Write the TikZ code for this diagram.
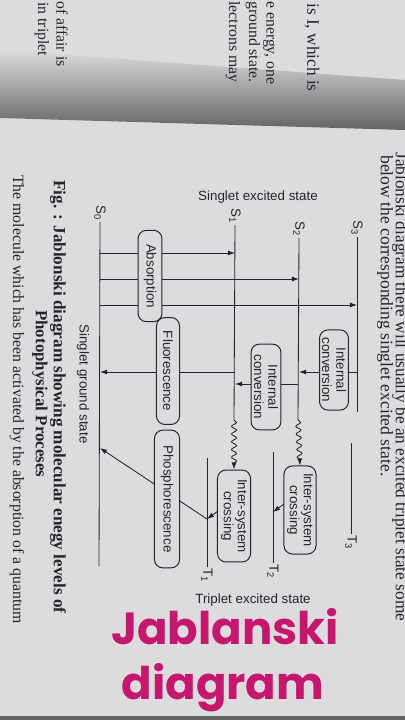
\documentclass[tikz,border=0pt]{standalone}
\usepackage{fontspec}
\setmainfont{Liberation Serif}
\newfontfamily\diagfont{Liberation Sans}
\newfontfamily\popfont{Poppins}
\usetikzlibrary{arrows.meta,decorations.pathmorphing,positioning}
\definecolor{paper}{RGB}{221,219,222}
\definecolor{ink}{RGB}{38,36,40}
\definecolor{hot}{RGB}{196,24,110}

\begin{document}
\begin{tikzpicture}[x=0.025cm,y=-0.025cm]
\tikzstyle{statebar} = [ink, line width=0.6pt]
\tikzstyle{transarrow} = [ink, line width=0.6pt, -{Latex[length=5pt,width=3.5pt]}]
\tikzstyle{wavy} = [decorate, decoration={snake, amplitude=1.8pt, segment length=5.5pt, post length=4pt}]
\tikzstyle{process} = [draw=ink, fill=paper, line width=0.7pt, rounded corners=6pt, rotate=-90, align=center, inner sep=1pt, text=ink, font=\diagfont\fontsize{9.5}{10}\selectfont]
\tikzstyle{lbl} = [text=ink, inner sep=1pt, font=\diagfont\fontsize{9.5}{10}\selectfont]
\tikzstyle{pagetext} = [text=ink, rotate=-90, anchor=west, inner sep=0pt, font=\fontsize{12.5}{13}\selectfont]
\tikzstyle{lefttext} = [pagetext, font=\fontsize{11.2}{12}\selectfont]
\tikzstyle{bigtitle} = [text=hot, inner sep=0pt, font=\popfont\bfseries\fontsize{32}{32}\selectfont]

\useasboundingbox (0,0) rectangle (405,720);
\clip (0,0) rectangle (405,720);
\fill[paper] (0,0) rectangle (405,720);

% fold between the two pages
\shade[top color=paper, bottom color=black!55!paper] (0,50) -- (405,80) -- (405,130) -- (0,118) -- cycle;
\fill[black!55!paper] (0,716) rectangle (405,720);

% text of the left page
\node[lefttext] (l1) at (62,1) {of affair is};
\node[lefttext] (l2) at (42,2) {in triplet};
\node[lefttext, font=\fontsize{12.3}{13}\selectfont] (l3) at (312,3) {is I, which is};
\node[lefttext] (l4) at (269,1) {e energy, one};
\node[lefttext] (l5) at (253,1) {ground state.};
\node[lefttext] (l6) at (233,1) {lectrons may};

% text of the right page
\node[pagetext, font=\fontsize{12.3}{13}\selectfont] (r1) at (400,152) {Jablonski diagram there will usually be an excited triplet state some};
\node[pagetext] (r2) at (385,155) {below the corresponding singlet excited state.};
\node[pagetext, font=\bfseries\fontsize{12.2}{13}\selectfont] (cap1) at (58,180) {Fig. : Jablonski diagram showing molecular enegy levels of};
\node[pagetext, font=\bfseries\fontsize{12}{13}\selectfont] (cap2) at (40,310) {Photophysical Proceses};
\node[pagetext, font=\fontsize{11.2}{12}\selectfont] (r3) at (17,175) {The molecule which has been activated by the absorption of a quantum};

% energy levels
\coordinate (s0top) at (100,222); \coordinate (s0bot) at (99,566);
\coordinate (s1top) at (235,225); \coordinate (s1wave) at (234,420);
\coordinate (s2top) at (299,238); \coordinate (s2wave) at (298,420);
\coordinate (s3top) at (357,237); \coordinate (s3bot) at (357,412);
\coordinate (t1top) at (207,458); \coordinate (t1bot) at (207,567);
\coordinate (t2top) at (273,452); \coordinate (t2bot) at (273,563);
\coordinate (t3top) at (351,443); \coordinate (t3bot) at (351,534);

\draw[statebar] (s0top) -- (s0bot);
\draw[statebar] (s1top) -- (s1wave);
\draw[statebar] (s2top) -- (s2wave);
\draw[statebar] (s3top) -- (s3bot);
\draw[statebar] (t1top) -- (t1bot);
\draw[statebar] (t2top) -- (t2bot);
\draw[statebar] (t3top) -- (t3bot);

\node[lbl, rotate=-90, anchor=east] (s0lab) at (s0top) {S\textsubscript{0}};
\node[lbl, rotate=-90, anchor=east] (s1lab) at (s1top) {S\textsubscript{1}};
\node[lbl, rotate=-90, anchor=east] (s2lab) at (s2top) {S\textsubscript{2}};
\node[lbl, rotate=-90, anchor=east] (s3lab) at (s3top) {S\textsubscript{3}};
\node[lbl, rotate=-90, anchor=west] (t1lab) at (t1bot) {T\textsubscript{1}};
\node[lbl, rotate=-90, anchor=west] (t2lab) at (t2bot) {T\textsubscript{2}};
\node[lbl, rotate=-90, anchor=west] (t3lab) at (t3bot) {T\textsubscript{3}};

\node[lbl] (singex) at (258,197) {Singlet excited state};
\node[lbl] (tripex) at (253,600) {Triplet excited state};
\node[lbl, rotate=-90, anchor=west] (singgr) at (83,323) {Singlet ground state};

% transitions
\coordinate (abs1) at (100,253);
\coordinate (abs2) at (100,279);
\coordinate (abs3) at (100,305);
\draw[transarrow] (abs1) -- (abs1 -| s1top);
\draw[transarrow] (abs2) -- (abs2 -| s2top);
\draw[transarrow] (abs3) -- (abs3 -| s3top);

\coordinate (flu) at (235,372);
\draw[transarrow] (flu) -- (flu -| s0top);
\coordinate (ic3) at (357,372);
\draw[transarrow] (ic3) -- (ic3 -| s2top);
\coordinate (ic2) at (298,384);
\draw[transarrow] (ic2) -- (ic2 -| s1top);

\coordinate (t1hit) at (207,519);
\coordinate (t2hit) at (273,512);
\coordinate (s0hit) at (100,448);
\draw[transarrow] (t1hit) -- (s0hit);

% process boxes
\node[process, minimum width=65pt, minimum height=17pt] (absorb) at (150,276) {Absorption};
\node[process, minimum width=76pt, minimum height=16.4pt] (fluor) at (168,371) {Fluorescence};
\node[process, minimum width=98pt, minimum height=17.8pt] (phos) at (167,499) {Phosphorescence};
\node[process, minimum width=57pt, minimum height=20.6pt] (icup) at (334,370) {Internal\\conversion};
\node[process, minimum width=61pt, minimum height=21.3pt] (iclow) at (266,387) {Internal\\conversion};
\node[process, minimum width=62.6pt, minimum height=22.8pt] (iscup) at (300,510) {Inter-system\\crossing};
\node[process, minimum width=65.4pt, minimum height=23.5pt] (isclow) at (234,516) {Inter-system\\crossing};

\draw[transarrow, wavy] (s1wave) -- (isclow.west);
\draw[transarrow, wavy] (s2wave) -- (iscup.west);
\coordinate (isc1) at (218,511);
\coordinate (isc2) at (284,504);
\draw[transarrow] (isc1) -- (t1hit);
\draw[transarrow] (isc2) -- (t2hit);

% title laid over the photo
\node[bigtitle] (jab) at (225,627) {Jablanski};
\node[bigtitle] (diag) at (223,688) {diagram};
\end{tikzpicture}
\end{document}
